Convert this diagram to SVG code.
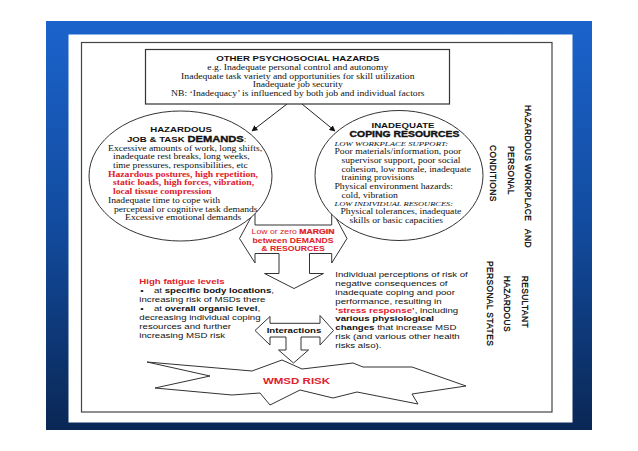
<svg xmlns="http://www.w3.org/2000/svg" width="638" height="451" viewBox="0 0 638 451">
<defs>
<linearGradient id="bg" x1="0" y1="0" x2="0" y2="1">
<stop offset="0" stop-color="#1b63cc"/>
<stop offset="0.5" stop-color="#124b9e"/>
<stop offset="1" stop-color="#0a2755"/>
</linearGradient>
<marker id="ah" viewBox="0 0 10 10" refX="9" refY="5" markerWidth="6" markerHeight="6" markerUnits="userSpaceOnUse" orient="auto">
<path d="M0,0 L10,5 L0,10 Z" fill="#111"/>
</marker>
<style>
.ar{font-family:"Liberation Sans",Arial,sans-serif;font-size:7.8px;fill:#111}
.tr{font-family:"Liberation Serif","Times New Roman",serif;font-size:7.8px;fill:#111}
.b{font-weight:bold}
.it{font-style:italic}
.red{fill:#e0202a}
.c{text-anchor:middle}
.heavy{font-weight:bold;stroke:#111;stroke-width:0.35}
.vt{font-family:"Liberation Sans",Arial,sans-serif;font-size:8.4px;letter-spacing:0.4px;fill:#000;stroke:#000;stroke-width:0.25}
.shape{fill:#fff;stroke:#333;stroke-width:1}
.conn{stroke:#222;stroke-width:1;fill:none}
</style>
</defs>
<rect x="0" y="0" width="638" height="451" fill="#fff"/>
<rect x="46" y="21" width="546" height="409" fill="url(#bg)"/>
<rect x="68.5" y="34.5" width="504" height="388" fill="#fff"/>
<rect x="81.5" y="42.5" width="470.5" height="369.5" fill="none" stroke="#444" stroke-width="1.2"/>

<g id="node-margin">
<polygon class="shape" points="255,225 255,210 239.5,238.5 255,263 255,253.5 279,253.5 279,273.5 264.5,273.5 294,288.5 323.5,273.5 309.5,273.5 309.5,253.5 331.7,253.5 331.7,263 347,238.5 331.7,210 331.7,225"/>
<text class="ar red c" style="font-size:7px" transform="translate(293,234.3) scale(1.24 1)">Low or zero <tspan class="b" style="stroke:#e0202a;stroke-width:0.25">MARGIN</tspan></text>
<text class="ar red c b" style="font-size:7px" transform="translate(293,242.5) scale(1.24 1)">between DEMANDS</text>
<text class="ar red c b" style="font-size:7px" transform="translate(293,250.7) scale(1.24 1)">&amp; RESOURCES</text>
</g>

<g id="connectors">
<line class="conn" x1="287" y1="104" x2="252" y2="131" marker-end="url(#ah)"/>
<line class="conn" x1="302" y1="104" x2="335" y2="131" marker-end="url(#ah)"/>
</g>

<g id="node-top-box">
<rect x="145.5" y="49.5" width="304" height="54.5" fill="#fff" stroke="#333" stroke-width="1.2"/>
<text class="ar b c" transform="translate(297.8,61.3) scale(1.24 1)">OTHER PSYCHOSOCIAL HAZARDS</text>
<text class="tr c" transform="translate(297.8,70) scale(1.24 1)">e.g. Inadequate personal control and autonomy</text>
<text class="tr c" transform="translate(297.8,78.6) scale(1.24 1)">Inadequate task variety and opportunities for skill utilization</text>
<text class="tr c" transform="translate(297.8,87.2) scale(1.24 1)">Inadequate job security</text>
<text class="tr c" transform="translate(297.8,96) scale(1.24 1)">NB: ‘Inadequacy’ is influenced by both job and individual factors</text>
</g>

<g id="node-demands">
<ellipse class="shape" cx="180.5" cy="176" rx="91.5" ry="65"/>
<text class="ar b c" transform="translate(181,132) scale(1.24 1)">HAZARDOUS</text>
<text class="ar b" transform="translate(127,141.5) scale(1.24 1)">JOB &amp; TASK <tspan class="heavy" style="font-size:9px">DEMANDS</tspan><tspan style="font-weight:normal">:</tspan></text>
<text class="tr" transform="translate(108,150.5) scale(1.24 1)">Excessive amounts of work, long shifts,</text>
<text class="tr" transform="translate(113,159.2) scale(1.24 1)">inadequate rest breaks, long weeks,</text>
<text class="tr" transform="translate(113,167.9) scale(1.24 1)">time pressures, responsibilities, etc</text>
<text class="tr b red" transform="translate(108,176.6) scale(1.24 1)">Hazardous postures, high repetition,</text>
<text class="tr b red" transform="translate(113,185.3) scale(1.24 1)">static loads, high forces, vibration,</text>
<text class="tr b red" transform="translate(113,194) scale(1.24 1)">local tissue compression</text>
<text class="tr" transform="translate(108,202.8) scale(1.24 1)">Inadequate time to cope with</text>
<text class="tr" transform="translate(114,211.6) scale(1.24 1)">perceptual or cognitive task demands</text>
<text class="tr" transform="translate(125,220.4) scale(1.24 1)">Excessive emotional demands</text>
</g>

<g id="node-resources">
<ellipse class="shape" cx="399" cy="175.5" rx="84" ry="65"/>
<text class="ar b c" transform="translate(403,127.5) scale(1.24 1)">INADEQUATE</text>
<text class="ar heavy c" style="font-size:8.4px" transform="translate(404.5,137.3) scale(1.24 1)">COPING RESOURCES</text>
<text class="tr it" style="font-size:7px" transform="translate(334.5,145.8) scale(1.24 1)">LOW  WORKPLACE SUPPORT:</text>
<text class="tr" transform="translate(334.5,154.4) scale(1.24 1)">Poor materials/information, poor</text>
<text class="tr" transform="translate(341.5,163) scale(1.24 1)">supervisor support, poor social</text>
<text class="tr" transform="translate(341.5,171.6) scale(1.24 1)">cohesion, low morale, inadequate</text>
<text class="tr" transform="translate(341.5,180.3) scale(1.24 1)">training provisions</text>
<text class="tr" transform="translate(334.5,188.9) scale(1.24 1)">Physical environment hazards:</text>
<text class="tr" transform="translate(341.5,197.5) scale(1.24 1)">cold, vibration</text>
<text class="tr it" style="font-size:6.8px" transform="translate(334.5,206) scale(1.24 1)">LOW INDIVIDUAL RESOURCES:</text>
<text class="tr" transform="translate(340.5,214.4) scale(1.24 1)">Physical tolerances, inadequate</text>
<text class="tr" transform="translate(349.5,222.8) scale(1.24 1)">skills or basic capacities</text>
</g>

<g id="node-fatigue">
<text class="ar b red" transform="translate(139.3,284.3) scale(1.24 1)">High fatigue levels</text>
<text class="ar" transform="translate(140.3,293.3) scale(1.24 1)">•<tspan x="11">at </tspan><tspan class="b">specific body locations</tspan>,</text>
<text class="ar" transform="translate(139.3,302.4) scale(1.24 1)">increasing risk of MSDs there</text>
<text class="ar" transform="translate(140.3,311.4) scale(1.24 1)">•<tspan x="11">at </tspan><tspan class="b">overall organic level</tspan>,</text>
<text class="ar" transform="translate(139.3,320.3) scale(1.24 1)">decreasing individual coping</text>
<text class="ar" transform="translate(139.3,329) scale(1.24 1)">resources and further</text>
<text class="ar" transform="translate(139.3,337.8) scale(1.24 1)">increasing MSD risk</text>
</g>

<g id="node-stress">
<text class="ar" transform="translate(335.3,277.2) scale(1.24 1)">Individual perceptions of risk of</text>
<text class="ar" transform="translate(335.3,286.1) scale(1.24 1)">negative consequences of</text>
<text class="ar" transform="translate(335.3,295) scale(1.24 1)">inadequate coping and poor</text>
<text class="ar" transform="translate(335.3,303.7) scale(1.24 1)">performance, resulting in</text>
<text class="ar" transform="translate(335.3,312.5) scale(1.24 1)"><tspan class="b red">‘stress response’</tspan>, including</text>
<text class="ar b" transform="translate(335.3,321.3) scale(1.24 1)">various physiological</text>
<text class="ar" transform="translate(335.3,330) scale(1.24 1)"><tspan class="b">changes</tspan> that increase MSD</text>
<text class="ar" transform="translate(335.3,338.8) scale(1.24 1)">risk (and various other health</text>
<text class="ar" transform="translate(335.3,347.5) scale(1.24 1)">risks also).</text>
</g>

<g id="node-interactions">
<polygon class="shape" points="270,323.3 270,316.5 255,330.5 270,345 270,337 286,337 286,350 278.5,350 293.5,363 308.5,350 301,350 301,337 320,337 320,345 333.5,330.5 320,315.5 320,323.3"/>
<text class="ar b c" transform="translate(294,332.5) scale(1.24 1)">Interactions</text>
</g>

<g id="node-wmsd">
<polygon class="shape" points="147,362 252,371 282,360 302,369 353,363 363,367 412,367 466,386 412,394 418,404 357,392 333,398 300,390 270,405 260,393 232,395 155,388 210,376"/>
<text class="ar b red c" style="font-size:9.3px" transform="translate(296.5,384.3) scale(1.24 1)">WMSD RISK</text>
</g>

<g id="side-labels">
<text class="vt" transform="translate(528.5,105) scale(1.15 1) rotate(90)" y="3">HAZARDOUS WORKPLACE</text>
<text class="vt" transform="translate(528.5,229) scale(1.15 1) rotate(90)" y="3">AND</text>
<text class="vt" transform="translate(511.4,146) scale(1.15 1) rotate(90)" y="3">PERSONAL</text>
<text class="vt" transform="translate(493.8,145) scale(1.15 1) rotate(90)" y="3">CONDITIONS</text>
<text class="vt" transform="translate(525.6,275.7) scale(1.15 1) rotate(90)" y="3">RESULTANT</text>
<text class="vt" transform="translate(507.3,275.7) scale(1.15 1) rotate(90)" y="3">HAZARDOUS</text>
<text class="vt" transform="translate(490.2,261) scale(1.15 1) rotate(90)" y="3">PERSONAL STATES</text>
</g>
</svg>
